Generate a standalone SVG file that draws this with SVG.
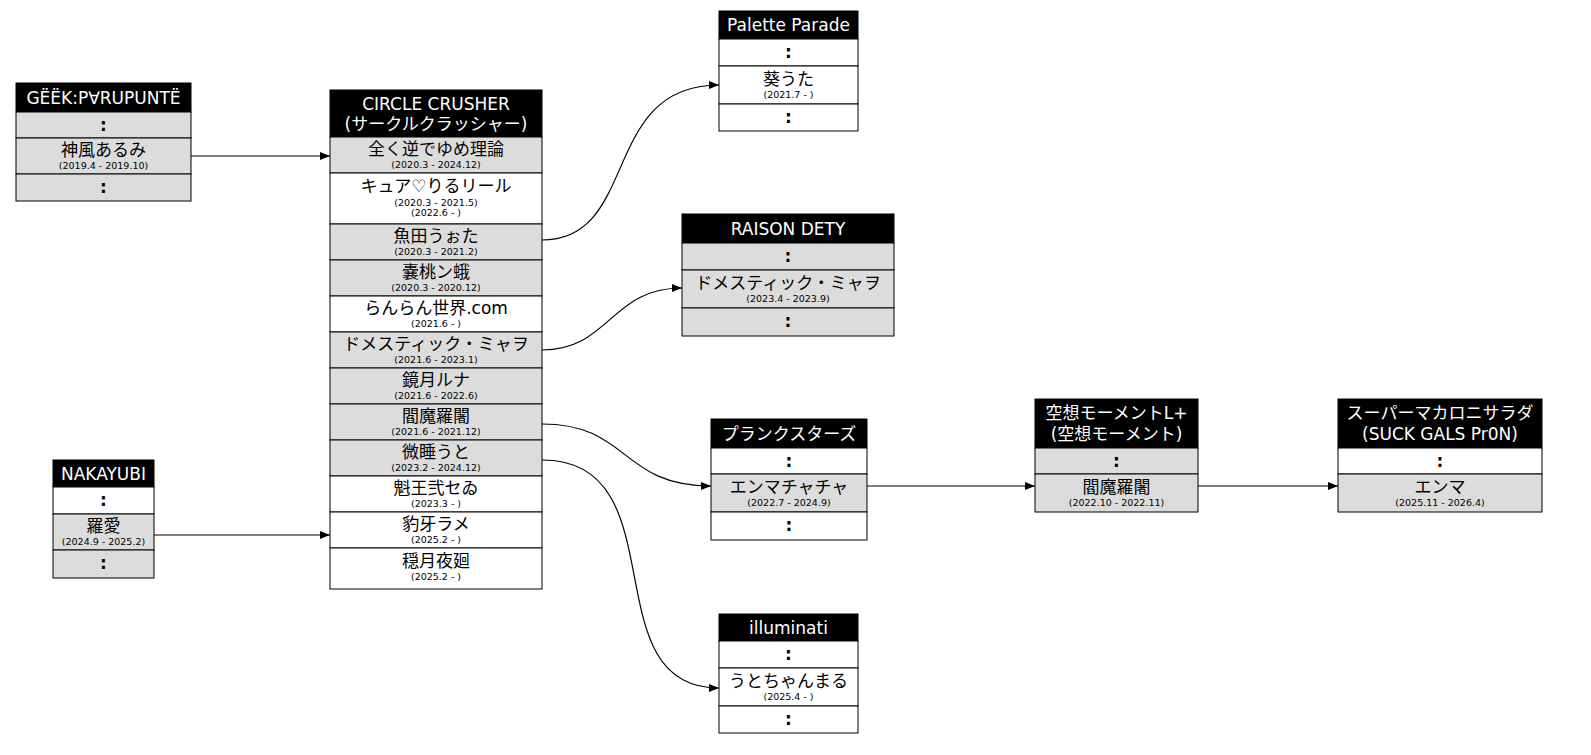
<svg xmlns="http://www.w3.org/2000/svg" width="1591" height="755" viewBox="0 0 1591 755">
<style>
text{font-family:"DejaVu Sans","Noto Sans CJK JP",sans-serif;text-anchor:middle}
.h{fill:#000;stroke:#000}
.g{fill:#dcdcdc;stroke:#000}
.w{fill:#fff;stroke:#000}
.ht{fill:#fff;font-size:17px}
.n{font-size:17px}
.d{font-size:9.5px}
.c{font-size:17px;font-weight:bold}
.e{fill:none;stroke:#000;stroke-width:1.2}
</style>
<defs><marker id="a" markerWidth="10" markerHeight="8" refX="10" refY="4" orient="auto" markerUnits="userSpaceOnUse"><path d="M0,0L10,4L0,8z"/></marker></defs>
<rect width="1591" height="755" fill="#fff"/>
<g id="geek">
<rect class="h" x="16" y="83" width="175" height="29"/><text class="ht" x="103.5" y="104">GËËK:P∀RUPUNTË</text>
<rect class="g" x="16" y="112" width="175" height="26"/><text class="c" x="103.5" y="131">:</text>
<rect class="g" x="16" y="138" width="175" height="36"/><text class="n" x="103.5" y="156">神風あるみ</text><text class="d" x="103.5" y="169">(2019.4 - 2019.10)</text>
<rect class="g" x="16" y="174" width="175" height="27"/><text class="c" x="103.5" y="193">:</text>
</g>
<g id="circle">
<rect class="h" x="330" y="90" width="212" height="47"/><text class="ht" x="436" y="110">CIRCLE CRUSHER</text><text class="ht" x="436" y="130">(サークルクラッシャー)</text>
<rect class="g" x="330" y="137" width="212" height="36"/><text class="n" x="436" y="155">全く逆でゆめ理論</text><text class="d" x="436" y="168">(2020.3 - 2024.12)</text>
<rect class="w" x="330" y="173" width="212" height="51"/><text class="n" x="436" y="192">キュア♡りるリール</text><text class="d" x="436" y="206">(2020.3 - 2021.5)</text><text class="d" x="436" y="216">(2022.6 - )</text>
<rect class="g" x="330" y="224" width="212" height="36"/><text class="n" x="436" y="242">魚田うぉた</text><text class="d" x="436" y="255">(2020.3 - 2021.2)</text>
<rect class="g" x="330" y="260" width="212" height="36"/><text class="n" x="436" y="278">嚢桃ン蛾</text><text class="d" x="436" y="291">(2020.3 - 2020.12)</text>
<rect class="w" x="330" y="296" width="212" height="36"/><text class="n" x="436" y="314">らんらん世界.com</text><text class="d" x="436" y="327">(2021.6 - )</text>
<rect class="g" x="330" y="332" width="212" height="36"/><text class="n" x="436" y="350">ドメスティック・ミャヲ</text><text class="d" x="436" y="363">(2021.6 - 2023.1)</text>
<rect class="g" x="330" y="368" width="212" height="36"/><text class="n" x="436" y="386">鏡月ルナ</text><text class="d" x="436" y="399">(2021.6 - 2022.6)</text>
<rect class="g" x="330" y="404" width="212" height="36"/><text class="n" x="436" y="422">閻魔羅闍</text><text class="d" x="436" y="435">(2021.6 - 2021.12)</text>
<rect class="g" x="330" y="440" width="212" height="36"/><text class="n" x="436" y="458">微睡うと</text><text class="d" x="436" y="471">(2023.2 - 2024.12)</text>
<rect class="w" x="330" y="476" width="212" height="36"/><text class="n" x="436" y="494">魁王弐セゐ</text><text class="d" x="436" y="507">(2023.3 - )</text>
<rect class="w" x="330" y="512" width="212" height="36"/><text class="n" x="436" y="530">豹牙ラメ</text><text class="d" x="436" y="543">(2025.2 - )</text>
<rect class="w" x="330" y="548" width="212" height="41"/><text class="n" x="436" y="567">穏月夜廻</text><text class="d" x="436" y="580">(2025.2 - )</text>
</g>
<g id="nakayubi">
<rect class="h" x="53" y="460" width="101" height="27"/><text class="ht" x="103.5" y="480">NAKAYUBI</text>
<rect class="w" x="53" y="487" width="101" height="27"/><text class="c" x="103.5" y="506">:</text>
<rect class="g" x="53" y="514" width="101" height="36"/><text class="n" x="103.5" y="532">羅愛</text><text class="d" x="103.5" y="545">(2024.9 - 2025.2)</text>
<rect class="g" x="53" y="550" width="101" height="28"/><text class="c" x="103.5" y="569">:</text>
</g>
<g id="palette">
<rect class="h" x="719" y="11" width="139" height="28"/><text class="ht" x="788.5" y="31">Palette Parade</text>
<rect class="w" x="719" y="39" width="139" height="27"/><text class="c" x="788.5" y="58">:</text>
<rect class="w" x="719" y="66" width="139" height="38"/><text class="n" x="788.5" y="85">葵うた</text><text class="d" x="788.5" y="98">(2021.7 - )</text>
<rect class="w" x="719" y="104" width="139" height="27"/><text class="c" x="788.5" y="123">:</text>
</g>
<g id="raison">
<rect class="h" x="682" y="214" width="212" height="29"/><text class="ht" x="788" y="235">RAISON DETY</text>
<rect class="g" x="682" y="243" width="212" height="27"/><text class="c" x="788" y="262">:</text>
<rect class="g" x="682" y="270" width="212" height="38"/><text class="n" x="788" y="289">ドメスティック・ミャヲ</text><text class="d" x="788" y="302">(2023.4 - 2023.9)</text>
<rect class="g" x="682" y="308" width="212" height="28"/><text class="c" x="788" y="327">:</text>
</g>
<g id="prank">
<rect class="h" x="711" y="419" width="156" height="29"/><text class="ht" x="789" y="440">プランクスターズ</text>
<rect class="w" x="711" y="448" width="156" height="26"/><text class="c" x="789" y="467">:</text>
<rect class="g" x="711" y="474" width="156" height="38"/><text class="n" x="789" y="493">エンマチャチャ</text><text class="d" x="789" y="506">(2022.7 - 2024.9)</text>
<rect class="w" x="711" y="512" width="156" height="28"/><text class="c" x="789" y="531">:</text>
</g>
<g id="kuso">
<rect class="h" x="1035" y="399" width="163" height="49"/><text class="ht" x="1116.5" y="419">空想モーメントL+</text><text class="ht" x="1116.5" y="440">(空想モーメント)</text>
<rect class="g" x="1035" y="448" width="163" height="26"/><text class="c" x="1116.5" y="467">:</text>
<rect class="g" x="1035" y="474" width="163" height="38"/><text class="n" x="1116.5" y="493">閻魔羅闍</text><text class="d" x="1116.5" y="506">(2022.10 - 2022.11)</text>
</g>
<g id="super">
<rect class="h" x="1338" y="399" width="204" height="49"/><text class="ht" x="1440" y="419">スーパーマカロニサラダ</text><text class="ht" x="1440" y="440">(SUCK GALS Pr0N)</text>
<rect class="w" x="1338" y="448" width="204" height="26"/><text class="c" x="1440" y="467">:</text>
<rect class="g" x="1338" y="474" width="204" height="38"/><text class="n" x="1440" y="493">エンマ</text><text class="d" x="1440" y="506">(2025.11 - 2026.4)</text>
</g>
<g id="illuminati">
<rect class="h" x="719" y="614" width="139" height="27"/><text class="ht" x="788.5" y="634">illuminati</text>
<rect class="w" x="719" y="641" width="139" height="27"/><text class="c" x="788.5" y="660">:</text>
<rect class="w" x="719" y="668" width="139" height="38"/><text class="n" x="788.5" y="687">うとちゃんまる</text><text class="d" x="788.5" y="700">(2025.4 - )</text>
<rect class="w" x="719" y="706" width="139" height="27"/><text class="c" x="788.5" y="725">:</text>
</g>
<g id="connectors">
<path class="e" marker-end="url(#a)" d="M191,156H330"/>
<path class="e" marker-end="url(#a)" d="M154,535H330"/>
<path class="e" marker-end="url(#a)" d="M542,240C640,240 600,85 719,85"/>
<path class="e" marker-end="url(#a)" d="M542,350C610,350 610,288 682,288"/>
<path class="e" marker-end="url(#a)" d="M542,424C630,424 620,486 711,486"/>
<path class="e" marker-end="url(#a)" d="M542,460C680,460 590,688 719,688"/>
<path class="e" marker-end="url(#a)" d="M867,486H1035"/>
<path class="e" marker-end="url(#a)" d="M1198,486H1338"/>
</g>
</svg>
